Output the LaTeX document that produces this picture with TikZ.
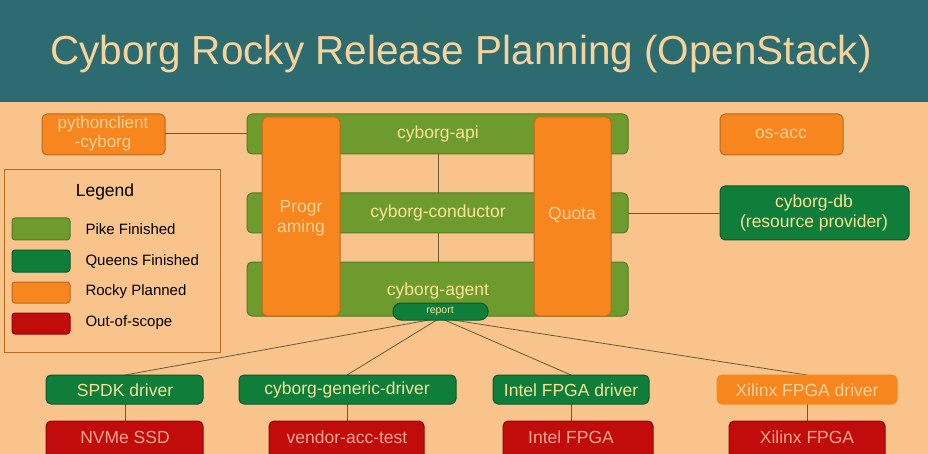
\documentclass[tikz,border=0pt]{standalone}
\usepackage{fontspec}
\setmainfont{Liberation Sans}
\begin{document}
\definecolor{bg}{HTML}{F9C38C}
\definecolor{teal}{HTML}{2C6B70}
\definecolor{ttl}{HTML}{F6D39C}
\definecolor{pike}{HTML}{6E9B2E}
\definecolor{pikeb}{HTML}{557A22}
\definecolor{queen}{HTML}{0F7E3A}
\definecolor{orng}{HTML}{F7861F}
\definecolor{orngb}{HTML}{B86A1E}
\definecolor{red}{HTML}{C20C0C}
\definecolor{lt}{HTML}{F9E59A}
\definecolor{pink}{HTML}{F3A891}
\definecolor{ln}{HTML}{6B5A35}
\begin{tikzpicture}[x=1pt,y=-1pt,
  box/.style={rounded corners=5pt,line width=1pt},
  pk/.style={box,fill=pike,draw=pikeb},
  qn/.style={box,fill=queen,draw=queen!70!black},
  og/.style={box,fill=orng,draw=orngb},
  rd/.style={box,fill=red,draw=red!70!black},
  lbl/.style={font=\fontsize{17.5}{20}\selectfont,align=center},
  leg/.style={anchor=west,font=\fontsize{15}{17}\selectfont},
  con/.style={draw=ln,line width=0.8pt}]
\useasboundingbox (0,0) rectangle (928,454);
\fill[bg] (0,0) rectangle (928,454);
\fill[teal] (0,0) rectangle (928,102);
\node[text=ttl,font=\fontsize{40.5}{46}\selectfont] (title) at (461,54) {Cyborg Rocky Release Planning (OpenStack)};
% connectors behind
\coordinate (v1) at (438,154); \coordinate (v2) at (438,193);
\coordinate (v3) at (438,233); \coordinate (v4) at (438,262);
\draw[con] (v1) -- (v2); \draw[con] (v3) -- (v4);
% bars
\draw[pk] (247,114) rectangle (628,154);
\draw[pk] (247,193) rectangle (628,233);
\draw[pk] (247,262) rectangle (628,316);
\node[lbl,text=lt] (api) at (438,134) {cyborg-api};
\node[lbl,text=lt] (cond) at (438,213) {cyborg-conductor};
\node[lbl,text=lt] (agent) at (438,291) {cyborg-agent};
\draw[og] (262,117) rectangle (340,316);
\node[lbl,text=ttl] (prog) at (301,218) {Progr\\aming};
\draw[og] (534,117) rectangle (611,316);
\node[lbl,text=ttl] (quota) at (572,215) {Quota};
% top side boxes
\draw[og] (42,114) rectangle (165,155);
\node[lbl,text=ttl,font=\fontsize{17}{19}\selectfont] (py) at (103,134) {pythonclient\\-cyborg};
\draw[og] (720,114) rectangle (843,155);
\node[lbl,text=ttl] (osacc) at (781,134) {os-acc};
\draw[qn] (720,186) rectangle (909,240);
\node[lbl,text=lt] (db) at (814,213) {cyborg-db\\(resource provider)};
\coordinate (pyr) at (165,133); \coordinate (apil) at (247,133);
\draw[con] (pyr) -- (apil);
\coordinate (qr) at (628,213); \coordinate (dbl) at (720,213);
\draw[con] (qr) -- (dbl);
% legend
\draw[draw=orngb,line width=1pt] (4,170) rectangle (220,352);
\node[lbl] (lg) at (105,192) {Legend};
\draw[pk,rounded corners=3pt] (12,218) rectangle (70,240);
\draw[qn,rounded corners=3pt] (12,250) rectangle (70,272);
\draw[og,rounded corners=3pt] (12,282) rectangle (70,303);
\draw[rd,rounded corners=3pt] (12,313) rectangle (70,334);
\node[leg] (l1) at (82,229) {Pike Finished};
\node[leg] (l2) at (82,261) {Queens Finished};
\node[leg] (l3) at (82,292) {Rocky Planned};
\node[leg] (l4) at (82,323) {Out-of-scope};
% drivers
\coordinate (d1) at (125,375); \coordinate (d2) at (347,375);
\coordinate (d3) at (571,375); \coordinate (d4) at (807,375);
\coordinate (rp) at (440,318);
\foreach \d in {d1,d2,d3,d4} \draw[con] (rp) -- (\d);
\foreach \x in {125,347,571,807}
  {\coordinate (ta) at (\x,404); \coordinate (tb) at (\x,421); \draw[con] (ta) -- (tb);}
\draw[qn,rounded corners=8pt] (393,303) rectangle (488,320);
\node[text=lt,font=\fontsize{10.5}{12}\selectfont] (report) at (440,311) {report};
\draw[qn] (46,375) rectangle (203,404);
\node[lbl,text=lt] (spdk) at (125,390) {SPDK driver};
\draw[qn] (239,375) rectangle (456,404);
\node[lbl,text=lt] (gen) at (347,390) {cyborg-generic-driver};
\draw[qn] (493,375) rectangle (649,404);
\node[lbl,text=lt] (intel) at (571,390) {Intel FPGA driver};
\draw[og,draw=orng] (717,375) rectangle (897,404);
\node[lbl,text=ttl] (xil) at (807,390) {Xilinx FPGA driver};
\draw[rd] (46,421) rectangle (203,460);
\node[lbl,text=pink] (nvme) at (125,437) {NVMe SSD};
\draw[rd] (269,421) rectangle (424,460);
\node[lbl,text=pink] (vat) at (347,437) {vendor-acc-test};
\draw[rd] (503,421) rectangle (653,460);
\node[lbl,text=pink] (ifp) at (571,437) {Intel FPGA};
\draw[rd] (729,421) rectangle (885,460);
\node[lbl,text=pink] (xfp) at (807,437) {Xilinx FPGA};
\end{tikzpicture}
\end{document}
